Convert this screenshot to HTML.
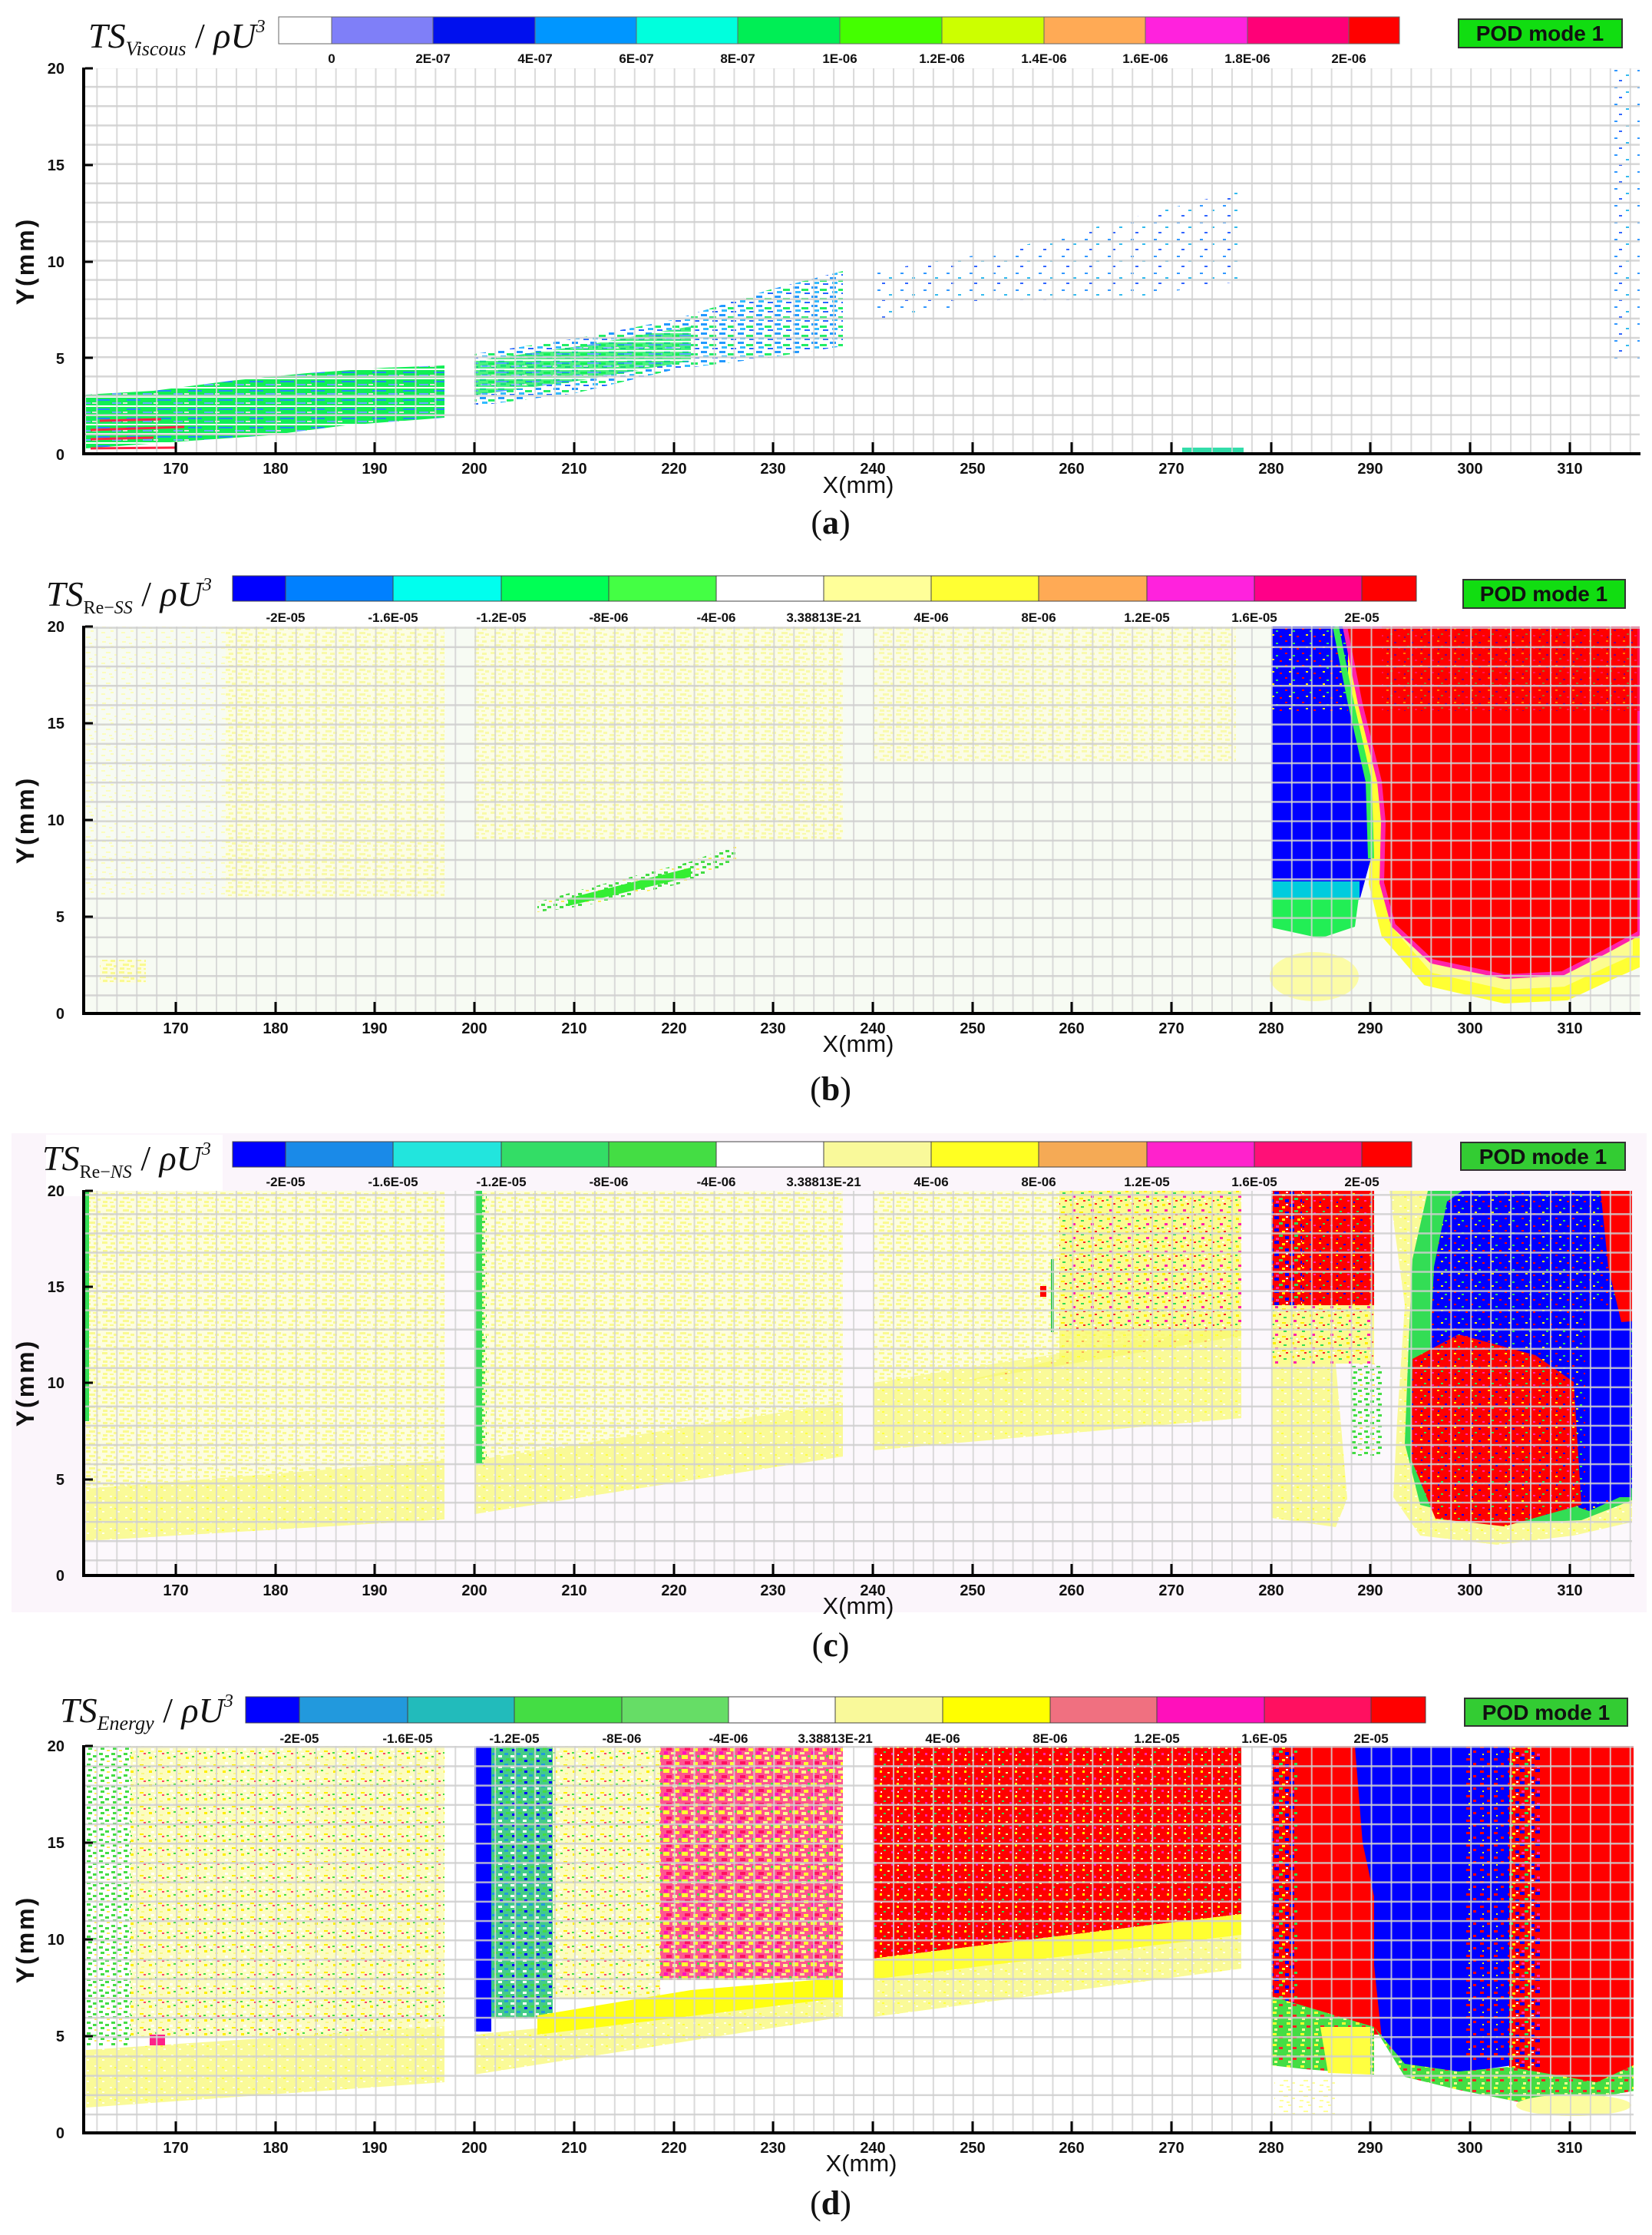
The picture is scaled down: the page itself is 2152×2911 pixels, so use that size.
<!DOCTYPE html>
<html><head><meta charset="utf-8"><style>
html,body{margin:0;padding:0;background:#fff}
svg{display:block}
.tk{font-family:"Liberation Sans",sans-serif;font-weight:bold;font-size:20px;fill:#111}
.cb{font-family:"Liberation Sans",sans-serif;font-weight:bold;font-size:17px;fill:#111}
.xl{font-family:"Liberation Sans",sans-serif;font-size:31px;fill:#111}
.yl{font-family:"Liberation Sans",sans-serif;font-weight:bold;font-size:32px;fill:#111;letter-spacing:3px}
.sub{font-family:"Liberation Serif",serif;font-size:44px;fill:#111}
.ti{font-family:"Liberation Serif",serif;font-style:italic;fill:#111}
.pod{font-family:"Liberation Sans",sans-serif;font-weight:bold;font-size:28px;fill:#111}
</style></head><body>
<svg width="2152" height="2911" viewBox="0 0 2152 2911" xmlns="http://www.w3.org/2000/svg">
<defs>
<pattern id="gv" patternUnits="userSpaceOnUse" x="21.6" y="0" width="25.94" height="100"><rect x="0" y="0" width="2" height="100" fill="#d4d4d4" opacity="0.85"/></pattern>
<pattern id="ghA" patternUnits="userSpaceOnUse" x="0" y="11.25" width="100" height="25.15"><rect x="0" y="0" width="100" height="2.5" fill="#cfcfcf" opacity="0.85"/></pattern>
<pattern id="ghB" patternUnits="userSpaceOnUse" x="0" y="10" width="100" height="25.2"><rect x="0" y="0" width="100" height="2.5" fill="#cfcfcf" opacity="0.85"/></pattern>
<pattern id="ghC" patternUnits="userSpaceOnUse" x="0" y="2" width="100" height="25.05"><rect x="0" y="0" width="100" height="2.5" fill="#cfcfcf" opacity="0.85"/></pattern>
<pattern id="ghD" patternUnits="userSpaceOnUse" x="0" y="6" width="100" height="25.2"><rect x="0" y="0" width="100" height="2.5" fill="#cfcfcf" opacity="0.85"/></pattern>

<pattern id="ysp" patternUnits="userSpaceOnUse" width="26" height="20"><rect x="2" y="3" width="5" height="2" fill="#ffff99"/><rect x="14" y="1" width="4" height="2" fill="#ffff99"/><rect x="8" y="9" width="6" height="2" fill="#ffff99"/><rect x="19" y="12" width="4" height="2" fill="#ffff99"/><rect x="3" y="15" width="5" height="2" fill="#ffff99"/><rect x="12" y="17" width="4" height="2" fill="#ffff99"/></pattern>
<pattern id="ysp2" patternUnits="userSpaceOnUse" width="22" height="16"><rect width="22" height="16" fill="#fdfde0"/><rect x="1" y="1" width="7" height="3" fill="#fafa90"/><rect x="12" y="2" width="6" height="3" fill="#fafa90"/><rect x="6" y="7" width="8" height="3" fill="#fafa90"/><rect x="16" y="9" width="5" height="3" fill="#fafa90"/><rect x="2" y="12" width="6" height="3" fill="#fafa90"/><rect x="11" y="13" width="5" height="2" fill="#fafa90"/></pattern>
<pattern id="yden" patternUnits="userSpaceOnUse" width="20" height="14"><rect width="20" height="14" fill="#fafa98"/><rect x="3" y="2" width="3" height="2" fill="#ffffe8"/><rect x="13" y="8" width="3" height="2" fill="#ffffe8"/><rect x="9" y="4" width="3" height="2" fill="#ffff40"/></pattern>
<pattern id="yden2" patternUnits="userSpaceOnUse" width="20" height="14"><rect width="20" height="14" fill="#f9f970"/><rect x="3" y="2" width="4" height="2" fill="#ffff10"/><rect x="13" y="8" width="3" height="2" fill="#fcfcb0"/><rect x="9" y="10" width="3" height="2" fill="#ff9944"/></pattern>
<pattern id="ymix" patternUnits="userSpaceOnUse" width="24" height="18"><rect width="24" height="18" fill="#fbfb90"/><rect x="2" y="2" width="4" height="3" fill="#ffee00"/><rect x="10" y="1" width="3" height="2" fill="#ff2222"/><rect x="16" y="5" width="4" height="2" fill="#33dd55"/><rect x="5" y="9" width="4" height="3" fill="#ff22aa"/><rect x="14" y="12" width="5" height="2" fill="#ffee00"/><rect x="1" y="14" width="3" height="2" fill="#33dd55"/><rect x="19" y="15" width="3" height="2" fill="#ff2222"/><rect x="8" y="15" width="3" height="2" fill="#ffffff"/></pattern>
<pattern id="ymix2" patternUnits="userSpaceOnUse" width="24" height="18"><rect width="24" height="18" fill="#fcfcc0"/><rect x="2" y="2" width="4" height="3" fill="#ffee00"/><rect x="10" y="1" width="3" height="2" fill="#44dd44"/><rect x="16" y="5" width="4" height="2" fill="#f9f980"/><rect x="5" y="9" width="4" height="3" fill="#ffffff"/><rect x="14" y="12" width="5" height="2" fill="#ffee00"/><rect x="1" y="14" width="3" height="2" fill="#44dd44"/><rect x="19" y="15" width="3" height="2" fill="#ff4466"/><rect x="8" y="15" width="4" height="2" fill="#ffffff"/></pattern>
<pattern id="pmix" patternUnits="userSpaceOnUse" width="24" height="18"><rect width="24" height="18" fill="#ff5590"/><rect x="0" y="0" width="8" height="5" fill="#ffff30"/><rect x="12" y="2" width="6" height="4" fill="#fbfb90"/><rect x="4" y="8" width="7" height="4" fill="#ff1060"/><rect x="15" y="9" width="6" height="4" fill="#ffff30"/><rect x="1" y="13" width="5" height="4" fill="#ff10bb"/><rect x="10" y="14" width="6" height="3" fill="#fbfb90"/><rect x="20" y="0" width="3" height="3" fill="#44dd44"/></pattern>
<pattern id="rmix" patternUnits="userSpaceOnUse" width="22" height="16"><rect width="22" height="16" fill="#ff0000"/><rect x="2" y="2" width="3" height="2" fill="#ffee00"/><rect x="12" y="4" width="3" height="2" fill="#0000ff"/><rect x="7" y="9" width="3" height="2" fill="#33dd55"/><rect x="17" y="11" width="3" height="2" fill="#ff22aa"/><rect x="3" y="13" width="2" height="2" fill="#0000ff"/></pattern>
<pattern id="rmix2" patternUnits="userSpaceOnUse" width="22" height="16"><rect width="22" height="16" fill="#ff0000"/><rect x="2" y="2" width="3" height="3" fill="#ffee00"/><rect x="12" y="4" width="3" height="2" fill="#fbfb90"/><rect x="7" y="9" width="3" height="2" fill="#33dd55"/><rect x="17" y="11" width="3" height="3" fill="#ff22aa"/><rect x="3" y="13" width="2" height="2" fill="#ffffff"/></pattern>
<pattern id="rbmix" patternUnits="userSpaceOnUse" width="20" height="16"><rect width="20" height="16" fill="#ff0000"/><rect x="0" y="0" width="6" height="4" fill="#0000ff"/><rect x="10" y="3" width="4" height="3" fill="#ffee00"/><rect x="6" y="8" width="5" height="3" fill="#33dd55"/><rect x="14" y="10" width="5" height="4" fill="#0000ff"/><rect x="2" y="12" width="4" height="3" fill="#ff22aa"/><rect x="15" y="0" width="3" height="2" fill="#ffffff"/></pattern>
<pattern id="bmix" patternUnits="userSpaceOnUse" width="22" height="16"><rect width="22" height="16" fill="#0000ff"/><rect x="2" y="2" width="3" height="2" fill="#ff0000"/><rect x="12" y="5" width="3" height="2" fill="#33dd55"/><rect x="7" y="10" width="3" height="2" fill="#ffee00"/><rect x="17" y="12" width="3" height="2" fill="#ff0000"/></pattern>
<pattern id="bmixr" patternUnits="userSpaceOnUse" width="18" height="16"><rect width="18" height="16" fill="#0000ff"/><rect x="2" y="2" width="5" height="3" fill="#ff0000"/><rect x="11" y="8" width="4" height="3" fill="#ff0000"/><rect x="5" y="12" width="2" height="2" fill="#ffee00"/></pattern>
<pattern id="gsp" patternUnits="userSpaceOnUse" width="16" height="14"><rect x="1" y="1" width="5" height="3" fill="#44dd44"/><rect x="9" y="4" width="5" height="3" fill="#44dd44"/><rect x="3" y="8" width="5" height="3" fill="#44dd44"/><rect x="11" y="11" width="4" height="2" fill="#ffee55"/></pattern>
<pattern id="tg" patternUnits="userSpaceOnUse" width="16" height="14"><rect width="16" height="14" fill="#44cc88"/><rect x="1" y="1" width="5" height="3" fill="#2299dd"/><rect x="9" y="4" width="5" height="3" fill="#ffffff"/><rect x="3" y="8" width="5" height="3" fill="#44dd44"/><rect x="11" y="10" width="4" height="3" fill="#0000ff"/></pattern>
<pattern id="gymix" patternUnits="userSpaceOnUse" width="18" height="14"><rect width="18" height="14" fill="#44dd44"/><rect x="2" y="2" width="5" height="3" fill="#ffff30"/><rect x="10" y="6" width="5" height="3" fill="#ff2222"/><rect x="4" y="10" width="4" height="3" fill="#fbfb90"/></pattern>
<pattern id="gblue" patternUnits="userSpaceOnUse" width="40" height="12"><rect width="40" height="12" fill="#11ee55"/><rect x="0" y="0" width="40" height="2" fill="#ffffff"/><rect x="5" y="4" width="18" height="2" fill="#2288ff"/><rect x="26" y="8" width="12" height="2" fill="#66aaff"/><rect x="0" y="8" width="6" height="2" fill="#dddddd"/></pattern>
<pattern id="bsp" patternUnits="userSpaceOnUse" width="24" height="12"><rect x="1" y="1" width="8" height="3" fill="#2299ff"/><rect x="12" y="4" width="9" height="3" fill="#22ee66"/><rect x="4" y="7" width="7" height="3" fill="#33bbff"/><rect x="16" y="9" width="7" height="2" fill="#2266ff"/></pattern>
<pattern id="bdots" patternUnits="userSpaceOnUse" width="30" height="22"><rect x="3" y="3" width="4" height="2" fill="#3399ff"/><rect x="18" y="9" width="4" height="2" fill="#33bbee"/><rect x="9" y="16" width="4" height="2" fill="#3366ff"/></pattern>
<clipPath id="cA"><rect x="110" y="89" width="2026" height="503"/></clipPath>
<clipPath id="cB"><rect x="110" y="816" width="2026" height="504"/></clipPath>
<clipPath id="cC"><rect x="110" y="1551" width="2016" height="501"/></clipPath>
<clipPath id="cD"><rect x="110" y="2274" width="2018" height="504"/></clipPath>
</defs>

<!-- ===== Panel A ===== -->
<text class="ti" x="115" y="62" font-size="46">TS<tspan font-size="26" dy="10">Viscous</tspan><tspan dy="-10" font-style="normal"> / </tspan>ρU<tspan font-size="24" dy="-20">3</tspan></text>
<g stroke="#666" stroke-width="1">
<rect x="363" y="22" width="69" height="35" fill="#ffffff"/>
<rect x="432" y="22" width="132" height="35" fill="#7f7ff8"/>
<rect x="564" y="22" width="133" height="35" fill="#0010ee"/>
<rect x="697" y="22" width="132" height="35" fill="#0096ff"/>
<rect x="829" y="22" width="132" height="35" fill="#00ffdd"/>
<rect x="961" y="22" width="133" height="35" fill="#00ee55"/>
<rect x="1094" y="22" width="133" height="35" fill="#44ff00"/>
<rect x="1227" y="22" width="133" height="35" fill="#ccff00"/>
<rect x="1360" y="22" width="132" height="35" fill="#ffaa55"/>
<rect x="1492" y="22" width="133" height="35" fill="#ff22dd"/>
<rect x="1625" y="22" width="132" height="35" fill="#ff0077"/>
<rect x="1757" y="22" width="66" height="35" fill="#ff0000"/>
</g>
<g class="cb" text-anchor="middle">
<text x="432" y="82">0</text><text x="564" y="82">2E-07</text><text x="697" y="82">4E-07</text><text x="829" y="82">6E-07</text><text x="961" y="82">8E-07</text><text x="1094" y="82">1E-06</text><text x="1227" y="82">1.2E-06</text><text x="1360" y="82">1.4E-06</text><text x="1492" y="82">1.6E-06</text><text x="1625" y="82">1.8E-06</text><text x="1757" y="82">2E-06</text>
</g>
<rect x="1900" y="25" width="213" height="37" fill="#11dd11" stroke="#333" stroke-width="2"/>
<text class="pod" x="2006" y="53" text-anchor="middle">POD mode 1</text>

<g clip-path="url(#cA)">
<rect x="110" y="89" width="2026" height="503" fill="#ffffff"/>
<polygon points="112,514 200,509 300,496 400,486 500,479 579,476 579,544 450,554 350,567 250,574 112,584" fill="url(#gblue)"/>
<g stroke="#ff2244" stroke-width="3"><line x1="118" y1="560" x2="240" y2="556"/><line x1="118" y1="572" x2="200" y2="570"/><line x1="118" y1="584" x2="230" y2="583"/><line x1="130" y1="548" x2="210" y2="546"/></g>
<polygon points="618,461 750,441 880,416 1000,378 1098,353 1098,451 1000,466 880,481 750,512 618,529" fill="url(#bsp)"/>
<polygon points="618,470 760,450 900,425 900,470 760,495 618,515" fill="url(#gblue)" opacity="0.75"/>
<polygon points="1140,353 1300,328 1450,290 1600,252 1617,240 1617,366 1450,391 1300,391 1140,416" fill="url(#bdots)"/>
<rect x="2100" y="89" width="36" height="380" fill="url(#bdots)"/>
<rect x="1540" y="583" width="80" height="7" fill="#33ddaa"/>
<rect x="110" y="89" width="2026" height="503" fill="url(#gv)"/>
<rect x="110" y="89" width="2026" height="503" fill="url(#ghA)"/>
</g>

<!-- ===== Panel B ===== -->
<text class="ti" x="60" y="789" font-size="46">TS<tspan font-size="24" dy="10" font-style="normal">Re−</tspan><tspan font-size="24">SS</tspan><tspan dy="-10" font-style="normal"> / </tspan>ρU<tspan font-size="24" dy="-20">3</tspan></text>
<g stroke="#444" stroke-width="1">
<rect x="303" y="750" width="69" height="33" fill="#0000ff"/>
<rect x="372" y="750" width="140" height="33" fill="#0080ff"/>
<rect x="512" y="750" width="141" height="33" fill="#00ffee"/>
<rect x="653" y="750" width="140" height="33" fill="#00ff55"/>
<rect x="793" y="750" width="140" height="33" fill="#44ff44"/>
<rect x="933" y="750" width="140" height="33" fill="#ffffff"/>
<rect x="1073" y="750" width="140" height="33" fill="#ffff99"/>
<rect x="1213" y="750" width="140" height="33" fill="#ffff33"/>
<rect x="1353" y="750" width="141" height="33" fill="#ffaa55"/>
<rect x="1494" y="750" width="140" height="33" fill="#ff22dd"/>
<rect x="1634" y="750" width="140" height="33" fill="#ff0088"/>
<rect x="1774" y="750" width="71" height="33" fill="#ff0000"/>
</g>
<g class="cb" text-anchor="middle">
<text x="372" y="810">-2E-05</text><text x="512" y="810">-1.6E-05</text><text x="653" y="810">-1.2E-05</text><text x="793" y="810">-8E-06</text><text x="933" y="810">-4E-06</text><text x="1073" y="810">3.38813E-21</text><text x="1213" y="810">4E-06</text><text x="1353" y="810">8E-06</text><text x="1494" y="810">1.2E-05</text><text x="1634" y="810">1.6E-05</text><text x="1774" y="810">2E-05</text>
</g>
<rect x="1906" y="755" width="211" height="37" fill="#11dd11" stroke="#333" stroke-width="2"/>
<text class="pod" x="2011" y="783" text-anchor="middle">POD mode 1</text>

<g clip-path="url(#cB)">
<rect x="110" y="816" width="2026" height="504" fill="#f7fbf3"/>
<rect x="112" y="816" width="182" height="350" fill="url(#ysp)" opacity="0.6"/>
<rect x="294" y="816" width="285" height="353" fill="url(#ysp2)" opacity="0.75"/>
<rect x="618" y="816" width="480" height="277" fill="url(#ysp2)" opacity="0.75"/>
<rect x="1137" y="816" width="473" height="176" fill="url(#ysp2)" opacity="0.7"/>
<rect x="130" y="1250" width="60" height="30" fill="url(#ysp2)"/>
<polygon points="700,1175 760,1158 900,1122 960,1100 960,1120 900,1148 760,1180 700,1188" fill="url(#gsp)"/>
<polygon points="740,1170 900,1130 900,1142 740,1180" fill="#33ee33"/>
<ellipse cx="1712" cy="1272" rx="58" ry="32" fill="#fcfca6"/>
<path d="M1745,816 L1765,917 L1790,1018 L1795,1070 L1792,1150 L1808,1215 L1860,1275 L1960,1298 L2040,1294 L2100,1266 L2136,1250 L2136,816 Z" fill="#fcfc90"/>
<path d="M1745,816 L1765,917 L1790,1018 L1795,1070 L1792,1150 L1808,1215 L1860,1275 L1960,1298 L2040,1294 L2100,1266 L2136,1250 L2136,816 Z" fill="none" stroke="#ffff33" stroke-width="18"/>
<path d="M1656,816 L1740,816 L1760,917 L1783,1018 L1786,1118 L1772,1169 L1656,1169 Z" fill="#0000ff"/>
<rect x="1656" y="816" width="100" height="110" fill="url(#bmix)"/>
<rect x="1656" y="1148" width="115" height="24" fill="#00ccdd"/>
<polygon points="1656,1169 1770,1169 1765,1207 1720,1222 1656,1208" fill="#22ee55"/>
<path d="M1752,816 L1772,917 L1797,1018 L1802,1070 L1800,1150 L1815,1205 L1865,1252 L1960,1272 L2035,1268 L2090,1240 L2136,1215 L2136,816 Z" fill="#ff0000" stroke="#ff22aa" stroke-width="6"/>
<rect x="1800" y="816" width="336" height="110" fill="url(#rmix)" opacity="0.5"/>
<path d="M1740,816 L1760,917 L1783,1018 L1786,1118" fill="none" stroke="#33ee55" stroke-width="8"/>
<rect x="110" y="816" width="2026" height="504" fill="url(#gv)"/>
<rect x="110" y="816" width="2026" height="504" fill="url(#ghB)"/>
</g>

<!-- ===== Panel C ===== -->
<rect x="15" y="1476" width="2130" height="624" fill="#fbf5fb"/>
<rect x="60" y="1478" width="230" height="80" fill="#ffffff"/>
<text class="ti" x="55" y="1524" font-size="46">TS<tspan font-size="24" dy="10" font-style="normal">Re−</tspan><tspan font-size="24">NS</tspan><tspan dy="-10" font-style="normal"> / </tspan>ρU<tspan font-size="24" dy="-20">3</tspan></text>
<g stroke="#444" stroke-width="1">
<rect x="303" y="1487" width="69" height="33" fill="#0000ff"/>
<rect x="372" y="1487" width="140" height="33" fill="#1a8ae8"/>
<rect x="512" y="1487" width="141" height="33" fill="#22e5dd"/>
<rect x="653" y="1487" width="140" height="33" fill="#33dd66"/>
<rect x="793" y="1487" width="140" height="33" fill="#44dd44"/>
<rect x="933" y="1487" width="140" height="33" fill="#ffffff"/>
<rect x="1073" y="1487" width="140" height="33" fill="#f9f99a"/>
<rect x="1213" y="1487" width="140" height="33" fill="#ffff22"/>
<rect x="1353" y="1487" width="141" height="33" fill="#f5aa55"/>
<rect x="1494" y="1487" width="140" height="33" fill="#ff22cc"/>
<rect x="1634" y="1487" width="140" height="33" fill="#ff1077"/>
<rect x="1774" y="1487" width="65" height="33" fill="#ff0000"/>
</g>
<g class="cb" text-anchor="middle">
<text x="372" y="1545">-2E-05</text><text x="512" y="1545">-1.6E-05</text><text x="653" y="1545">-1.2E-05</text><text x="793" y="1545">-8E-06</text><text x="933" y="1545">-4E-06</text><text x="1073" y="1545">3.38813E-21</text><text x="1213" y="1545">4E-06</text><text x="1353" y="1545">8E-06</text><text x="1494" y="1545">1.2E-05</text><text x="1634" y="1545">1.6E-05</text><text x="1774" y="1545">2E-05</text>
</g>
<rect x="1903" y="1488" width="214" height="36" fill="#33cc33" stroke="#333" stroke-width="2"/>
<text class="pod" x="2010" y="1516" text-anchor="middle">POD mode 1</text>

<g clip-path="url(#cC)">
<rect x="110" y="1551" width="2026" height="501" fill="#fcf8fc"/>
<polygon points="112,2007 579,1979 579,1551 112,1551" fill="url(#ysp2)"/>
<polygon points="112,2007 579,1979 579,1902 112,1939" fill="url(#yden)"/>
<rect x="110" y="1551" width="6" height="300" fill="#33dd55"/>
<polygon points="618,1972 1098,1897 1098,1551 618,1551" fill="url(#ysp2)"/>
<polygon points="618,1972 1098,1897 1098,1827 618,1902" fill="url(#yden)"/>
<rect x="618" y="1551" width="16" height="355" fill="url(#gsp)"/>
<rect x="618" y="1551" width="10" height="355" fill="#33dd55"/>
<polygon points="1137,1889 1617,1847 1617,1551 1137,1551" fill="url(#ysp2)"/>
<polygon points="1137,1889 1617,1847 1617,1726 1137,1801" fill="url(#yden)"/>
<polygon points="1250,1800 1617,1740 1617,1551 1380,1551 1380,1770" fill="url(#yden2)" opacity="0.8"/>
<rect x="1380" y="1551" width="237" height="180" fill="url(#ymix)"/>
<rect x="1369" y="1640" width="4" height="95" fill="#22cc44"/>
<rect x="1355" y="1675" width="8" height="14" fill="#ff0000"/>
<rect x="1656" y="1551" width="134" height="225" fill="url(#rmix)"/>
<rect x="1656" y="1551" width="40" height="150" fill="url(#rbmix)"/>
<rect x="1656" y="1700" width="134" height="76" fill="url(#ymix)"/>
<polygon points="1656,1776 1740,1776 1755,1952 1740,1989 1656,1977" fill="url(#yden)"/>
<rect x="1760" y="1776" width="40" height="120" fill="url(#gsp)"/>
<polygon points="1810,1551 1830,1700 1820,1850 1815,1950 1850,2000 1950,2012 2050,2000 2136,1980 2136,1551" fill="url(#yden)"/>
<polygon points="1860,1551 1840,1640 1835,1750 1830,1880 1850,1960 1950,1985 2060,1980 2136,1950 2136,1551" fill="#33dd55"/>
<polygon points="1885,1565 1868,1650 1862,1780 1872,1900 2070,1968 2110,1950 2136,1930 2136,1551 1905,1551" fill="url(#bmix)"/>
<rect x="2065" y="1700" width="60" height="250" fill="#0000ff"/>
<polygon points="1840,1770 1900,1738 2000,1765 2050,1800 2060,1960 1960,1988 1870,1978 1838,1900" fill="url(#rmix)"/>
<polygon points="2085,1551 2136,1551 2136,1720 2112,1722 2095,1650" fill="#ff0000"/>
<rect x="110" y="1551" width="2026" height="501" fill="url(#gv)"/>
<rect x="110" y="1551" width="2026" height="501" fill="url(#ghC)"/>
</g>

<!-- ===== Panel D ===== -->
<text class="ti" x="78" y="2243" font-size="46">TS<tspan font-size="26" dy="10">Energy</tspan><tspan dy="-10" font-style="normal"> / </tspan>ρU<tspan font-size="24" dy="-20">3</tspan></text>
<g stroke="#444" stroke-width="1">
<rect x="320" y="2210" width="70" height="34" fill="#0000ff"/>
<rect x="390" y="2210" width="141" height="34" fill="#2299dd"/>
<rect x="531" y="2210" width="139" height="34" fill="#22bbbb"/>
<rect x="670" y="2210" width="140" height="34" fill="#44dd44"/>
<rect x="810" y="2210" width="139" height="34" fill="#66dd66"/>
<rect x="949" y="2210" width="139" height="34" fill="#ffffff"/>
<rect x="1088" y="2210" width="140" height="34" fill="#f9f99a"/>
<rect x="1228" y="2210" width="140" height="34" fill="#ffff00"/>
<rect x="1368" y="2210" width="139" height="34" fill="#f07080"/>
<rect x="1507" y="2210" width="140" height="34" fill="#ff10bb"/>
<rect x="1647" y="2210" width="139" height="34" fill="#ff1060"/>
<rect x="1786" y="2210" width="71" height="34" fill="#ff0000"/>
</g>
<g class="cb" text-anchor="middle">
<text x="390" y="2270">-2E-05</text><text x="531" y="2270">-1.6E-05</text><text x="670" y="2270">-1.2E-05</text><text x="810" y="2270">-8E-06</text><text x="949" y="2270">-4E-06</text><text x="1088" y="2270">3.38813E-21</text><text x="1228" y="2270">4E-06</text><text x="1368" y="2270">8E-06</text><text x="1507" y="2270">1.2E-05</text><text x="1647" y="2270">1.6E-05</text><text x="1786" y="2270">2E-05</text>
</g>
<rect x="1908" y="2212" width="212" height="36" fill="#33cc33" stroke="#333" stroke-width="2"/>
<text class="pod" x="2014" y="2240" text-anchor="middle">POD mode 1</text>

<g clip-path="url(#cD)">
<rect x="110" y="2274" width="2026" height="504" fill="#ffffff"/>
<rect x="112" y="2274" width="58" height="390" fill="url(#gsp)"/>
<rect x="170" y="2274" width="409" height="380" fill="url(#ymix2)"/>
<polygon points="112,2745 579,2712 579,2639 112,2670" fill="url(#yden)"/>
<rect x="195" y="2650" width="20" height="14" fill="#ff2288"/>
<rect x="618" y="2274" width="22" height="372" fill="#0000ff"/>
<rect x="640" y="2274" width="80" height="355" fill="url(#tg)"/>
<rect x="720" y="2274" width="140" height="330" fill="url(#ymix2)"/>
<rect x="860" y="2274" width="238" height="305" fill="url(#pmix)"/>
<polygon points="618,2702 1098,2627 1098,2602 618,2650" fill="url(#yden)"/>
<polygon points="700,2650 1098,2602 1098,2576 900,2592 700,2625" fill="#ffff10"/>
<polygon points="1137,2274 1617,2274 1617,2493 1137,2551" fill="url(#rmix2)"/>
<polygon points="1137,2551 1617,2493 1617,2564 1137,2627" fill="url(#yden)"/>
<polygon points="1137,2551 1617,2493 1617,2520 1137,2578" fill="#ffff30"/>
<rect x="1656" y="2274" width="36" height="380" fill="url(#rbmix)"/>
<polygon points="1690,2274 1775,2274 1790,2420 1800,2500 1800,2650 1690,2650" fill="#ff0000"/>
<polygon points="1656,2600 1790,2640 1790,2702 1700,2695 1656,2690" fill="url(#gymix)"/>
<polygon points="1720,2640 1785,2640 1785,2702 1730,2700" fill="#ffff40"/>
<polygon points="1765,2274 1970,2274 1970,2690 1900,2700 1830,2690 1800,2655 1790,2560 1790,2470 1775,2400" fill="#0000ff"/>
<rect x="1910" y="2274" width="56" height="410" fill="url(#bmixr)"/>
<polygon points="1966,2274 2136,2274 2136,2690 2080,2715 2040,2712 2010,2700 1966,2695" fill="#ff0000"/>
<rect x="1966" y="2274" width="40" height="420" fill="url(#rbmix)"/>
<polygon points="1790,2640 1830,2705 1900,2722 1980,2738 2040,2735 2080,2732 2136,2722 2136,2686 2080,2712 1966,2692 1900,2698 1830,2688 1800,2652" fill="url(#gymix)"/>
<ellipse cx="2050" cy="2742" rx="75" ry="14" fill="#fcfca0"/>
<rect x="1660" y="2705" width="80" height="50" fill="url(#ysp)"/>
<rect x="110" y="2274" width="2026" height="504" fill="url(#gv)"/>
<rect x="110" y="2274" width="2026" height="504" fill="url(#ghD)"/>
</g>

<!-- ===== Axes ===== -->
<rect x="107" y="88" width="4" height="505" fill="#000"/><rect x="107" y="589" width="2030" height="4" fill="#000"/>
<rect x="107" y="815" width="4" height="507" fill="#000"/><rect x="107" y="1318" width="2030" height="4" fill="#000"/>
<rect x="107" y="1550" width="4" height="504" fill="#000"/><rect x="107" y="2050" width="2022" height="4" fill="#000"/>
<rect x="107" y="2273" width="4" height="507" fill="#000"/><rect x="107" y="2776" width="2024" height="4" fill="#000"/>
<g stroke="#000" stroke-width="3">
<path d="M229,589v-13M359,589v-13M488,589v-13M618,589v-13M748,589v-13M878,589v-13M1007,589v-13M1137,589v-13M1267,589v-13M1396,589v-13M1526,589v-13M1656,589v-13M1785,589v-13M1915,589v-13M2045,589v-13"/>
<path d="M229,1318v-13M359,1318v-13M488,1318v-13M618,1318v-13M748,1318v-13M878,1318v-13M1007,1318v-13M1137,1318v-13M1267,1318v-13M1396,1318v-13M1526,1318v-13M1656,1318v-13M1785,1318v-13M1915,1318v-13M2045,1318v-13"/>
<path d="M229,2050v-13M359,2050v-13M488,2050v-13M618,2050v-13M748,2050v-13M878,2050v-13M1007,2050v-13M1137,2050v-13M1267,2050v-13M1396,2050v-13M1526,2050v-13M1656,2050v-13M1785,2050v-13M1915,2050v-13M2045,2050v-13"/>
<path d="M229,2776v-13M359,2776v-13M488,2776v-13M618,2776v-13M748,2776v-13M878,2776v-13M1007,2776v-13M1137,2776v-13M1267,2776v-13M1396,2776v-13M1526,2776v-13M1656,2776v-13M1785,2776v-13M1915,2776v-13M2045,2776v-13"/>
<path d="M111,89h10M111,215h10M111,341h10M111,466h10M111,816h10M111,942h10M111,1068h10M111,1194h10M111,1551h10M111,1676h10M111,1801h10M111,1927h10M111,2274h10M111,2400h10M111,2526h10M111,2652h10"/>
</g>

<g class="tk">
<g text-anchor="middle">
<text x="229" y="617">170</text><text x="359" y="617">180</text><text x="488" y="617">190</text><text x="618" y="617">200</text><text x="748" y="617">210</text><text x="878" y="617">220</text><text x="1007" y="617">230</text><text x="1137" y="617">240</text><text x="1267" y="617">250</text><text x="1396" y="617">260</text><text x="1526" y="617">270</text><text x="1656" y="617">280</text><text x="1785" y="617">290</text><text x="1915" y="617">300</text><text x="2045" y="617">310</text>
<text x="229" y="1346">170</text><text x="359" y="1346">180</text><text x="488" y="1346">190</text><text x="618" y="1346">200</text><text x="748" y="1346">210</text><text x="878" y="1346">220</text><text x="1007" y="1346">230</text><text x="1137" y="1346">240</text><text x="1267" y="1346">250</text><text x="1396" y="1346">260</text><text x="1526" y="1346">270</text><text x="1656" y="1346">280</text><text x="1785" y="1346">290</text><text x="1915" y="1346">300</text><text x="2045" y="1346">310</text>
<text x="229" y="2078">170</text><text x="359" y="2078">180</text><text x="488" y="2078">190</text><text x="618" y="2078">200</text><text x="748" y="2078">210</text><text x="878" y="2078">220</text><text x="1007" y="2078">230</text><text x="1137" y="2078">240</text><text x="1267" y="2078">250</text><text x="1396" y="2078">260</text><text x="1526" y="2078">270</text><text x="1656" y="2078">280</text><text x="1785" y="2078">290</text><text x="1915" y="2078">300</text><text x="2045" y="2078">310</text>
<text x="229" y="2804">170</text><text x="359" y="2804">180</text><text x="488" y="2804">190</text><text x="618" y="2804">200</text><text x="748" y="2804">210</text><text x="878" y="2804">220</text><text x="1007" y="2804">230</text><text x="1137" y="2804">240</text><text x="1267" y="2804">250</text><text x="1396" y="2804">260</text><text x="1526" y="2804">270</text><text x="1656" y="2804">280</text><text x="1785" y="2804">290</text><text x="1915" y="2804">300</text><text x="2045" y="2804">310</text>
</g>
<g text-anchor="end">
<text x="84" y="96">20</text><text x="84" y="222">15</text><text x="84" y="348">10</text><text x="84" y="474">5</text><text x="84" y="599">0</text>
<text x="84" y="823">20</text><text x="84" y="949">15</text><text x="84" y="1075">10</text><text x="84" y="1201">5</text><text x="84" y="1327">0</text>
<text x="84" y="1558">20</text><text x="84" y="1683">15</text><text x="84" y="1808">10</text><text x="84" y="1934">5</text><text x="84" y="2059">0</text>
<text x="84" y="2281">20</text><text x="84" y="2407">15</text><text x="84" y="2533">10</text><text x="84" y="2659">5</text><text x="84" y="2785">0</text>
</g>
</g>

<g class="xl" text-anchor="middle">
<text x="1118" y="642">X(mm)</text><text x="1118" y="1370">X(mm)</text><text x="1118" y="2102">X(mm)</text><text x="1122" y="2828">X(mm)</text>
</g>
<g class="yl" text-anchor="middle">
<text transform="translate(44,340) rotate(-90)">Y(mm)</text>
<text transform="translate(44,1068) rotate(-90)">Y(mm)</text>
<text transform="translate(44,1801) rotate(-90)">Y(mm)</text>
<text transform="translate(44,2526) rotate(-90)">Y(mm)</text>
</g>
<g class="sub" text-anchor="middle">
<text x="1082" y="695">(<tspan font-weight="bold">a</tspan>)</text>
<text x="1082" y="1433">(<tspan font-weight="bold">b</tspan>)</text>
<text x="1082" y="2157">(<tspan font-weight="bold">c</tspan>)</text>
<text x="1082" y="2884">(<tspan font-weight="bold">d</tspan>)</text>
</g>
</svg>
</body></html>
